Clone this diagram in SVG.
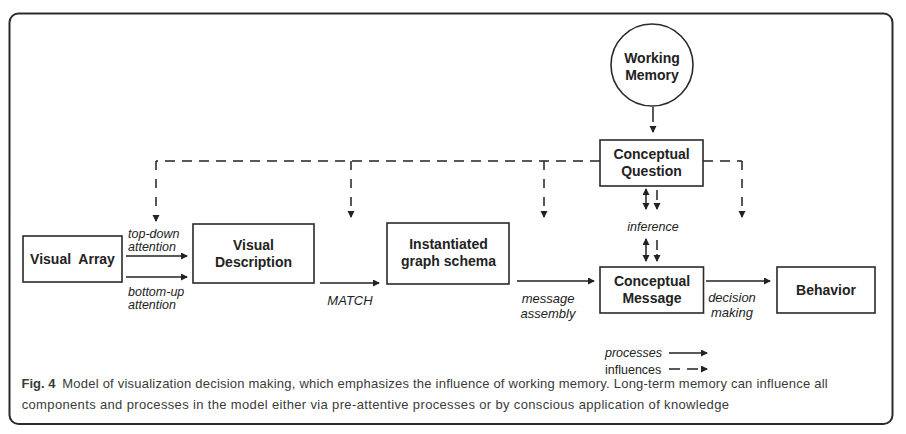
<svg xmlns="http://www.w3.org/2000/svg" width="906" height="434" viewBox="0 0 906 434">
<defs>
<marker id="ah" markerUnits="userSpaceOnUse" markerWidth="8" markerHeight="8" refX="6" refY="3.5" orient="auto-start-reverse"><path d="M0,0 L7,3.5 L0,7 z" fill="#222"/></marker>
<style>
.box{fill:#fff;stroke:#2a2a2a;stroke-width:1.6}
.nt{font-family:"Liberation Sans",Arial,sans-serif;font-size:14px;font-weight:bold;fill:#222;text-anchor:middle}
.lb{font-family:"Liberation Sans",Arial,sans-serif;font-size:13px;font-style:italic;fill:#222}
.lb2{font-family:"Liberation Sans",Arial,sans-serif;font-size:12.5px;font-style:italic;fill:#222}
.lg{font-family:"Liberation Sans",Arial,sans-serif;font-size:12.5px;fill:#222}
.solid{fill:none;stroke:#222;stroke-width:1.5;marker-end:url(#ah)}
.dash{fill:none;stroke:#222;stroke-width:1.5;stroke-dasharray:10 7}
.dasha{fill:none;stroke:#222;stroke-width:1.5;stroke-dasharray:9 9;marker-end:url(#ah)}
.cap{font-family:"Liberation Sans",Arial,sans-serif;font-size:13px;fill:#3a3a3a}
</style>
</defs>
<rect x="0" y="0" width="906" height="434" fill="#fff"/>
<rect x="9.5" y="13.5" width="883" height="410.5" rx="9" fill="none" stroke="#2a2a2a" stroke-width="2"/>

<g id="connectors">
<path d="M653,107 V132" fill="none" stroke="#222" stroke-width="1.5" stroke-dasharray="15 5" marker-end="url(#ah)"/>
<path class="dash" d="M600,161 H156"/>
<path class="dasha" d="M156,161 V221"/>
<path class="dasha" d="M351,161 V217"/>
<path class="dasha" d="M544,161 V217"/>
<path class="dash" d="M703,161 H742"/>
<path class="dasha" d="M742,161 V217"/>
<path class="solid" d="M126,256 H187"/>
<path class="solid" d="M126,277 H187"/>
<path class="solid" d="M320,283 H379"/>
<path class="solid" d="M517,281 H594"/>
<path class="solid" d="M706,281 H770"/>
<path d="M646,189 V209" fill="none" stroke="#222" stroke-width="1.5" marker-start="url(#ah)" marker-end="url(#ah)"/>
<path d="M657,190 V209" fill="none" stroke="#222" stroke-width="1.5" stroke-dasharray="10 4" marker-end="url(#ah)"/>
<path d="M646,239 V261" fill="none" stroke="#222" stroke-width="1.5" marker-start="url(#ah)" marker-end="url(#ah)"/>
<path d="M657,240 V261" fill="none" stroke="#222" stroke-width="1.5" stroke-dasharray="10 4" marker-end="url(#ah)"/>
</g>

<g id="working-memory">
<circle cx="652" cy="65" r="41" fill="#fff" stroke="#2a2a2a" stroke-width="1.6"/>
<text class="nt" x="652" y="63">Working</text>
<text class="nt" x="652" y="80">Memory</text>
</g>

<g id="conceptual-question">
<rect class="box" x="600" y="140" width="103" height="46"/>
<text class="nt" x="651.5" y="159">Conceptual</text>
<text class="nt" x="651.5" y="176">Question</text>
</g>

<g id="visual-array">
<rect class="box" x="23" y="236" width="99" height="46"/>
<text class="nt" x="72.5" y="264" style="white-space:pre" xml:space="preserve">Visual  Array</text>
</g>

<g id="visual-description">
<rect class="box" x="193" y="224" width="121" height="59"/>
<text class="nt" x="253.5" y="250">Visual</text>
<text class="nt" x="253.5" y="267">Description</text>
</g>

<g id="instantiated-graph-schema">
<rect class="box" x="387" y="223" width="122" height="61"/>
<text class="nt" x="448.5" y="249">Instantiated</text>
<text class="nt" x="448.5" y="266">graph schema</text>
</g>

<g id="conceptual-message">
<rect class="box" x="600" y="267" width="103.5" height="46"/>
<text class="nt" x="652" y="286">Conceptual</text>
<text class="nt" x="652" y="302.5">Message</text>
</g>

<g id="behavior">
<rect class="box" x="777" y="267" width="98" height="46"/>
<text class="nt" x="826" y="294.5">Behavior</text>
</g>

<g id="labels">
<text class="lb2" x="128" y="238">top-down</text>
<text class="lb2" x="128" y="251">attention</text>
<text class="lb2" x="128" y="296">bottom-up</text>
<text class="lb2" x="128" y="309">attention</text>
<text class="lb" x="350" y="305" text-anchor="middle">MATCH</text>
<text class="lb" x="548" y="303" text-anchor="middle">message</text>
<text class="lb" x="548" y="318" text-anchor="middle">assembly</text>
<text class="lb" x="732" y="301.5" text-anchor="middle">decision</text>
<text class="lb" x="732" y="316.5" text-anchor="middle">making</text>
<text class="lb2" x="653" y="231" text-anchor="middle">inference</text>
</g>

<g id="legend">
<text class="lg" x="605" y="357" font-style="italic">processes</text>
<path class="solid" d="M669,353 H707"/>
<text class="lg" x="605" y="374">influences</text>
<path d="M669,369 H707" fill="none" stroke="#222" stroke-width="1.5" stroke-dasharray="11 7" marker-end="url(#ah)"/>
</g>

<g id="caption">
<text class="cap" x="21.5" y="388" font-weight="bold" fill="#222">Fig. 4</text>
<text class="cap" x="62.3" y="388" textLength="765.4">Model of visualization decision making, which emphasizes the influence of working memory. Long-term memory can influence all</text>
<text class="cap" x="21.7" y="409" textLength="707.3">components and processes in the model either via pre-attentive processes or by conscious application of knowledge</text>
</g>
</svg>
